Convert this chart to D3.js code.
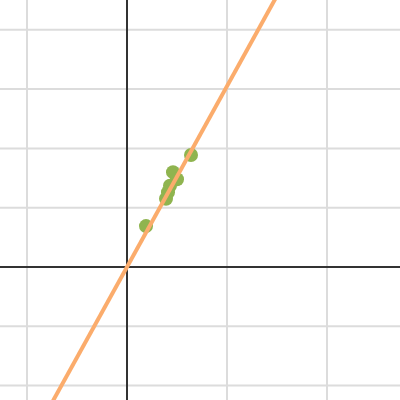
<!DOCTYPE html>
<html>
<head>
<meta charset="utf-8">
<script src="https://cdn.jsdelivr.net/npm/d3@7"></script>
<style>
  html, body { margin: 0; padding: 0; background: #fff; }
  svg { display: block; }
</style>
</head>
<body>
<svg id="chart"></svg>
<script>
// grid values (one unit per grid line)
const xTicks = [-1, 0, 1, 2];
const yTicks = [-2, -1, 0, 1, 2, 3, 4];

// scatter points
const pointX = [0.19, 0.64, 0.46, 0.50, 0.43, 0.41, 0.39];
const pointY = [0.69, 1.89, 1.60, 1.48, 1.37, 1.26, 1.15];

// fitted line y = slope * x + intercept
const slope = 3.05;
const intercept = 0;

const width = 400, height = 400;

const x = d3.scaleLinear([-1.27, 2.73], [0, width]);
const y = d3.scaleLinear([-2.243, 4.503], [height, 0]);

const svg = d3.select("#chart")
    .attr("width", width)
    .attr("height", height)
    .attr("viewBox", [0, 0, width, height]);

// grid
svg.append("g")
    .attr("stroke", "#dcdcdc")
    .attr("stroke-width", 2)
  .selectAll("line.v")
  .data(xTicks.filter(d => d !== 0))
  .join("line")
    .attr("x1", d => x(d)).attr("x2", d => x(d))
    .attr("y1", 0).attr("y2", height);

svg.append("g")
    .attr("stroke", "#dcdcdc")
    .attr("stroke-width", 2)
  .selectAll("line.h")
  .data(yTicks.filter(d => d !== 0))
  .join("line")
    .attr("x1", 0).attr("x2", width)
    .attr("y1", d => y(d)).attr("y2", d => y(d));

// axes
svg.append("line")
    .attr("x1", 0).attr("x2", width)
    .attr("y1", y(0)).attr("y2", y(0))
    .attr("stroke", "#333")
    .attr("stroke-width", 2);

svg.append("line")
    .attr("x1", x(0)).attr("x2", x(0))
    .attr("y1", 0).attr("y2", height)
    .attr("stroke", "#333")
    .attr("stroke-width", 2);

// points
const data = pointX.map((d, i) => ({x: d, y: pointY[i]}));
svg.append("g")
    .attr("fill", "#8fb44f")
  .selectAll("circle")
  .data(data)
  .join("circle")
    .attr("cx", d => x(d.x))
    .attr("cy", d => y(d.y))
    .attr("r", 7);

// regression line over the whole x domain
const xd = x.domain();
svg.append("line")
    .attr("x1", x(xd[0])).attr("y1", y(slope * xd[0] + intercept))
    .attr("x2", x(xd[1])).attr("y2", y(slope * xd[1] + intercept))
    .attr("stroke", "#fbac6c")
    .attr("stroke-width", 4);
</script>
</body>
</html>
